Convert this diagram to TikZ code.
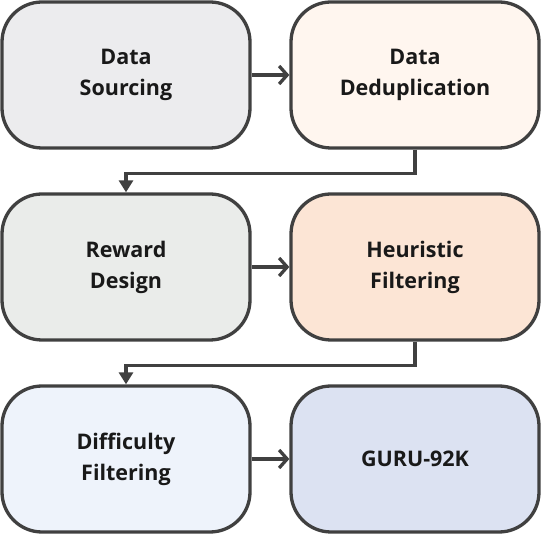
\documentclass[tikz,border=0pt]{standalone}
\usepackage{fontspec}
\setmainfont{Open Sans}
\usetikzlibrary{arrows.meta}
\definecolor{edge}{HTML}{404040}
\definecolor{cA}{HTML}{ECECEE}
\definecolor{cB}{HTML}{FFF6EF}
\definecolor{cC}{HTML}{EAECEA}
\definecolor{cD}{HTML}{FCE5D5}
\definecolor{cE}{HTML}{EEF3FB}
\definecolor{cF}{HTML}{DCE2F2}
\tikzset{
  stepbox/.style={draw=edge, line width=3.3pt, rounded corners=40pt,
    minimum width=248pt, minimum height=146pt, inner sep=0pt,
    align=center, font=\fontsize{21.5}{31}\selectfont\bfseries, text=black!90},
  harrow/.style={draw=edge, line width=3.3pt, -{Straight Barb[length=8pt,width=18pt,line width=3.3pt]}},
  varrow/.style={draw=edge, line width=3.3pt, -{Triangle[length=12pt,width=14pt]}},
}
\begin{document}
\begin{tikzpicture}[x=1pt,y=-1pt]
\useasboundingbox (0,0) rectangle (544,534);
\node[stepbox, fill=cA] (ds) at (126,75) {Data\\Sourcing};
\node[stepbox, fill=cB] (dd) at (415,75) {Data\\Deduplication};
\node[stepbox, fill=cC] (rd) at (126,267) {Reward\\Design};
\node[stepbox, fill=cD] (hf) at (415,267) {Heuristic\\Filtering};
\node[stepbox, fill=cE] (df) at (126,459) {Difficulty\\Filtering};
\node[stepbox, fill=cF] (gk) at (415,459) {GURU-92K};
\draw[harrow] (ds) -- (dd);
\draw[harrow] (rd) -- (hf);
\draw[harrow] (df) -- (gk);
\draw[varrow] (dd.south) -- ++(0,24) -| (rd.north);
\draw[varrow] (hf.south) -- ++(0,24) -| (df.north);
\end{tikzpicture}
\end{document}
